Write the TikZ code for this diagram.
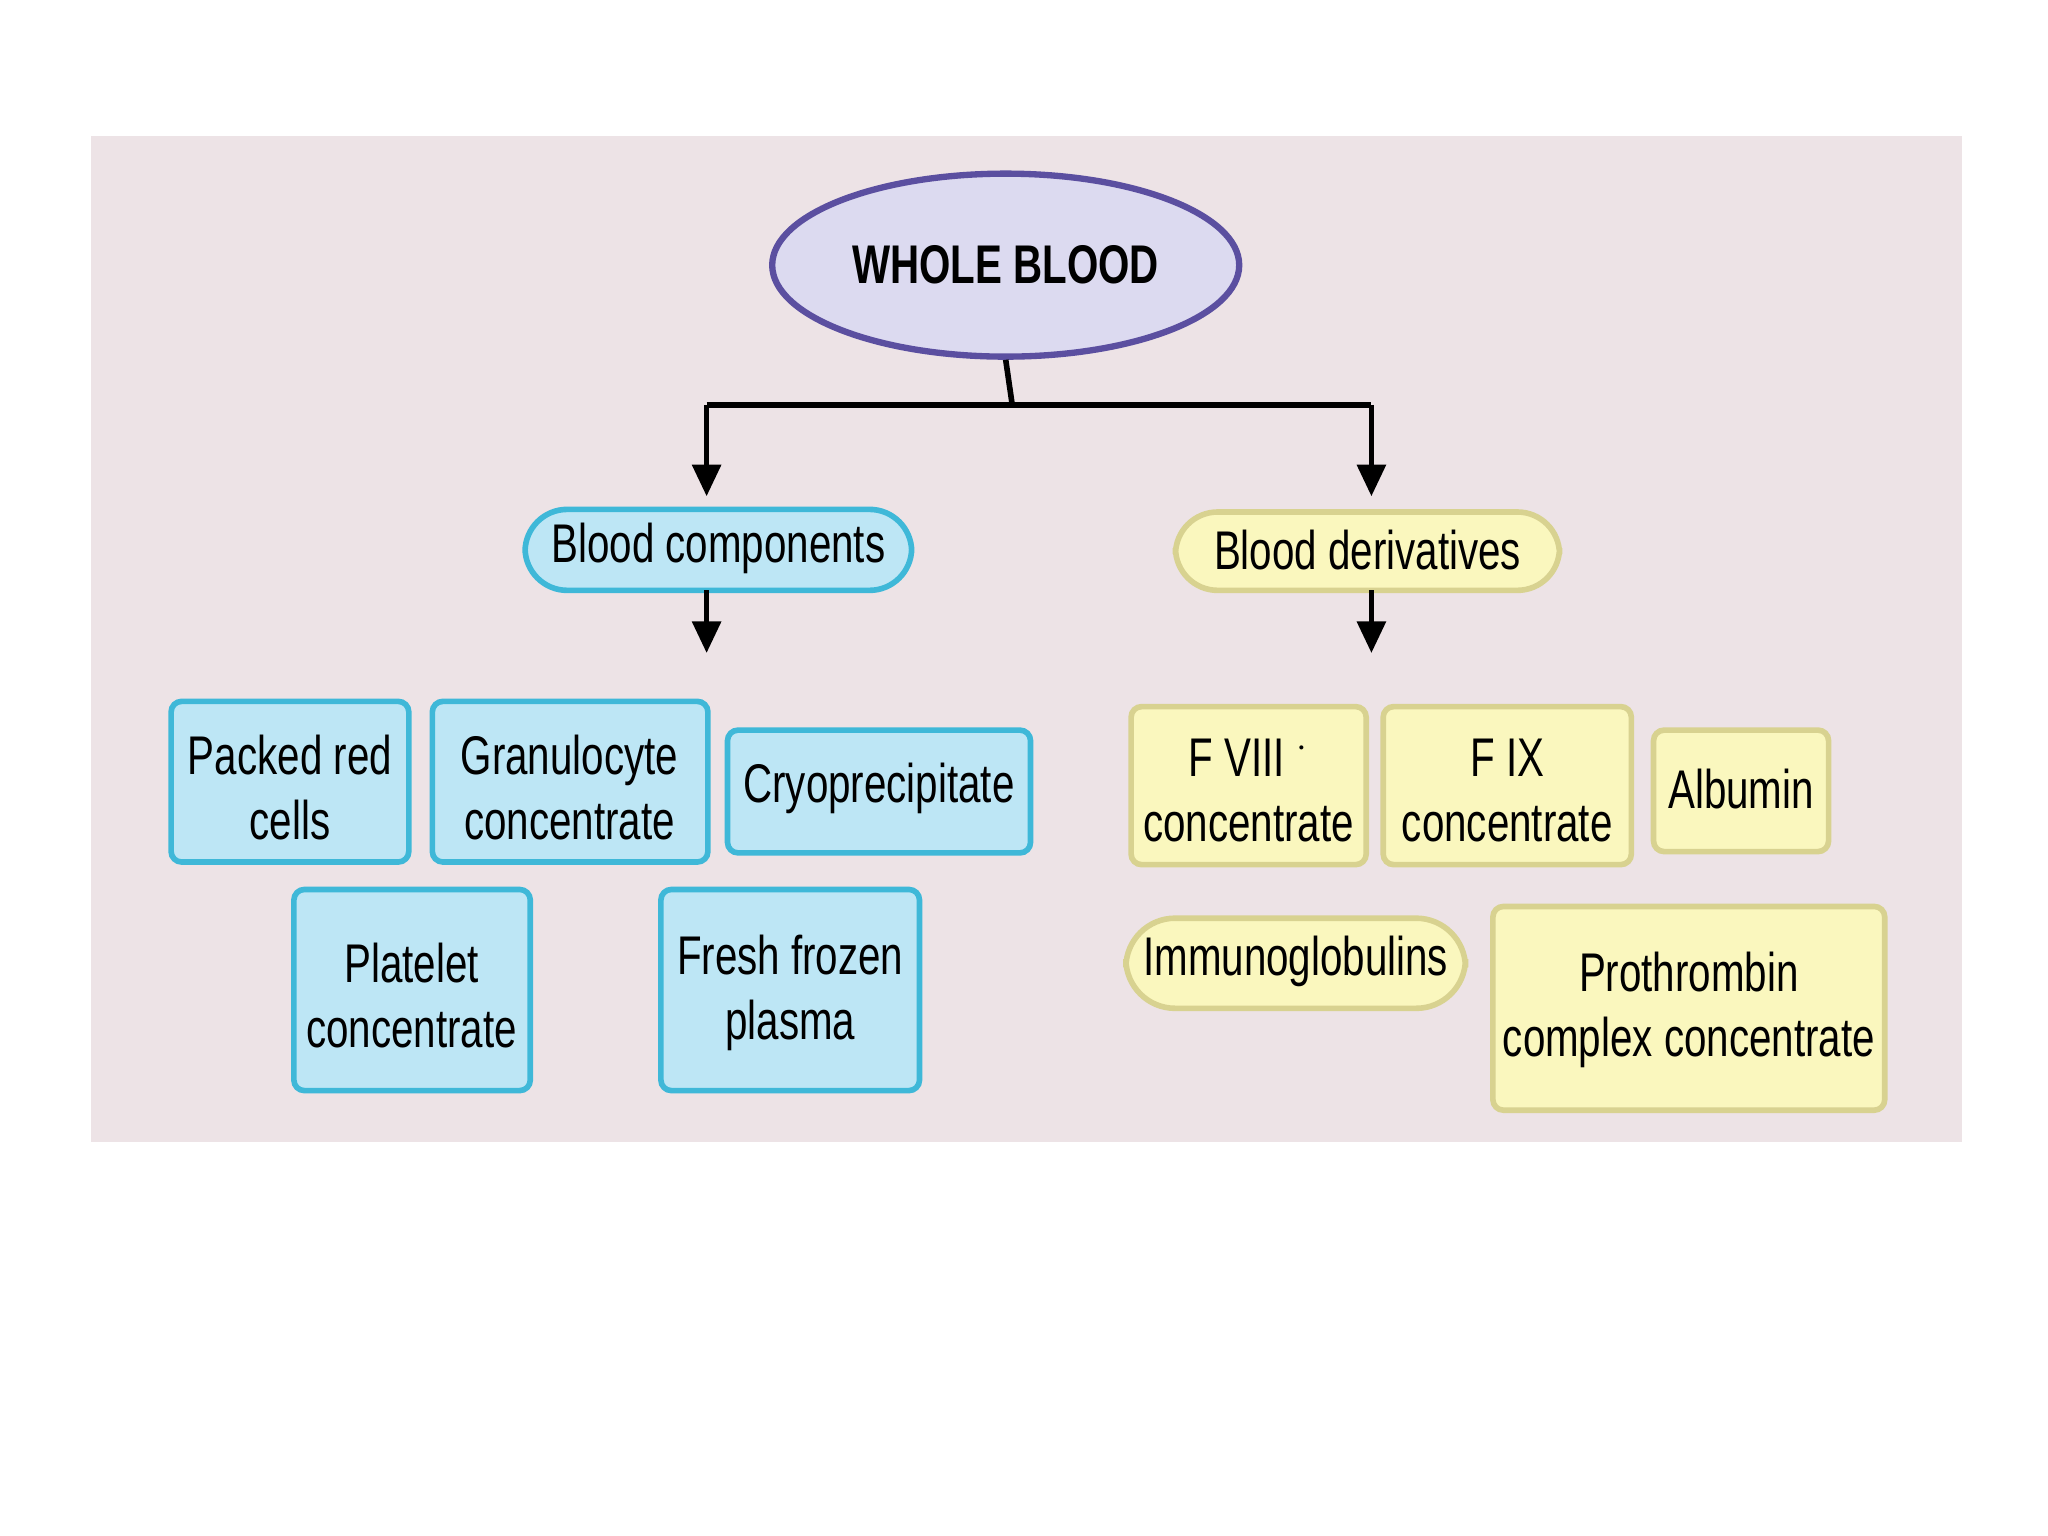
\documentclass[tikz,border=0pt]{standalone}
\usepackage{fontspec}
\setmainfont{Liberation Sans}[FakeStretch=0.74]
\usetikzlibrary{shapes.geometric,arrows.meta}
\definecolor{bgpink}{HTML}{EDE3E6}
\definecolor{lav}{HTML}{DCDAF0}
\definecolor{lavline}{HTML}{5B4FA0}
\definecolor{bluef}{HTML}{BDE6F5}
\definecolor{bluel}{HTML}{3FB8D8}
\definecolor{yelf}{HTML}{FAF7BE}
\definecolor{yell}{HTML}{D8D290}
\tikzset{
  txt/.style={font=\fontsize{15.5}{18.5}\selectfont, align=center, inner sep=0pt},
  bbox/.style={draw=bluel, fill=bluef, line width=1.6pt, rounded corners=3pt},
  ybox/.style={draw=yell, fill=yelf, line width=1.6pt, rounded corners=3pt},
  arr/.style={line width=1.6pt, -{Triangle[length=9pt,width=8pt]}},
}
\begin{document}
\begin{tikzpicture}[x=0.01306cm,y=-0.01306cm]
\useasboundingbox (0,0) rectangle (1568,1176);
\fill[white] (0,0) rectangle (1568,1176);
\fill[bgpink] (70,104) rectangle (1502,874);
% root
\node[ellipse, draw=lavline, fill=lav, line width=1.8pt, minimum width=350\pgflinewidth*0+4.57cm, minimum height=1.83cm,
  font=\fontsize{15.5}{18.5}\selectfont\bfseries] (wb) at (770,203) {WHOLE BLOOD};
% groups
\draw[bbox, rounded corners=12pt] (402,390) rectangle (698,452);
\node[txt] (bc) at (550,420) {Blood components};
\draw[ybox, rounded corners=12pt] (900,392) rectangle (1194,452);
\node[txt] (bd) at (1047,421) {Blood derivatives};
\coordinate (j) at (775,310);
\coordinate (jl) at (541,310);
\coordinate (jr) at (1050,310);
\coordinate (al) at (541,380);
\coordinate (ar) at (1050,380);
\draw[line width=1.6pt] (wb.south) -- (j);
\draw[line width=1.6pt] (jl) -- (jr);
\draw[arr] (jl) -- (al);
\draw[arr] (jr) -- (ar);
\coordinate (bcs) at (541,452); \coordinate (bce) at (541,500);
\coordinate (bds) at (1050,452); \coordinate (bde) at (1050,500);
\draw[arr] (bcs) -- (bce);
\draw[arr] (bds) -- (bde);
% components
\draw[bbox] (131,537) rectangle (313,660);
\node[txt] (prc) at (222,603) {Packed red\\cells};
\draw[bbox] (331,537) rectangle (542,660);
\node[txt] (gc) at (436,603) {Granulocyte\\concentrate};
\draw[bbox] (557,559) rectangle (789,653);
\node[txt] (cr) at (673,604) {Cryoprecipitate};
\draw[bbox] (225,681) rectangle (406,835);
\node[txt] (pc) at (315,762) {Platelet\\concentrate};
\draw[bbox] (506,681) rectangle (704,835);
\node[txt] (ffp) at (605,760) {Fresh frozen\\plasma};
% derivatives
\draw[ybox] (866,541) rectangle (1046,662);
\node[txt] (f8) at (956,605) {F VIII $^{\cdot}$\\concentrate};
\draw[ybox] (1059,541) rectangle (1249,662);
\node[txt] (f9) at (1154,605) {F IX\\concentrate};
\draw[ybox] (1266,559) rectangle (1400,652);
\node[txt] (alb) at (1333,604) {Albumin};
\draw[ybox, rounded corners=14pt] (862,703) rectangle (1122,772);
\node[txt] (ig) at (992,736) {Immunoglobulins};
\draw[ybox] (1143,694) rectangle (1443,850);
\node[txt] (pcc) at (1293,773) {Prothrombin\\complex concentrate};
\end{tikzpicture}
\end{document}
